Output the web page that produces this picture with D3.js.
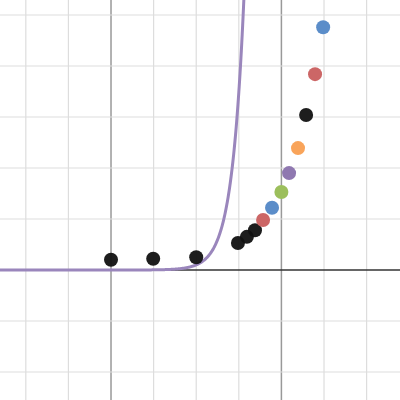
<!DOCTYPE html><html><head><script src="https://cdn.jsdelivr.net/npm/d3@7"></script>
<style>body{margin:0;background:#fff}</style></head><body><svg id="c" width="400" height="400"></svg>
<script>
const blackX=[0,0.99,2,2.98,3.19,3.38,4.58];
const blackY=[0.2,0.22,0.25,0.53,0.65,0.78,3.04];
const colorPtsX=[3.57,3.78,4,4.18,4.39,4.79,4.98];
const colorPtsY=[0.98,1.22,1.53,1.9,2.39,3.84,4.76];
const colorPtsC=["#cc6666","#5b8dc9","#9cbf5c","#8f78b0","#f9a45a","#cc6666","#5b8dc9"];
const curveA=0.1, curveK=3.55, curveC=2;
const svg=d3.select("#c");
const x=d3.scaleLinear().domain([-2.606,6.784]).range([0,400]);
const y=d3.scaleLinear().domain([-2.549,5.294]).range([400,0]);
for(let i=-3;i<=7;i++){svg.append("line").attr("x1",x(i)).attr("x2",x(i)).attr("y1",0).attr("y2",400)
 .attr("stroke",i%4===0?"#999":"#ddd").attr("stroke-width",i%4===0?1.5:1.2);}
for(let j=-3;j<=6;j++){if(j===0)continue;svg.append("line").attr("y1",y(j)).attr("y2",y(j)).attr("x1",0).attr("x2",400)
 .attr("stroke","#ddd").attr("stroke-width",1.2);}
svg.append("line").attr("y1",y(0)).attr("y2",y(0)).attr("x1",0).attr("x2",400).attr("stroke","#333").attr("stroke-width",1.5);
const xs=d3.range(-2.7,3.4,0.01);
svg.append("path").datum(xs).attr("fill","none").attr("stroke","#9a86bc").attr("stroke-width",3)
 .attr("d",d3.line().x(d=>x(d)).y(d=>y(curveA*Math.exp(curveK*(d-curveC)))));
svg.selectAll(".b").data(blackX).join("circle").attr("cx",d=>x(d)).attr("cy",(d,i)=>y(blackY[i])).attr("r",7).attr("fill","#111").attr("opacity",0.95);
svg.selectAll(".p").data(colorPtsX).join("circle").attr("cx",d=>x(d)).attr("cy",(d,i)=>y(colorPtsY[i])).attr("r",7).attr("fill",(d,i)=>colorPtsC[i]);
</script></body></html>
